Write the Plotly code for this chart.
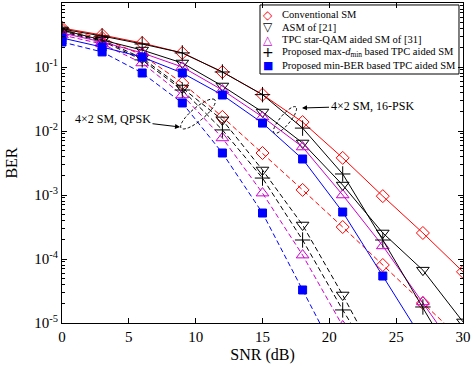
import numpy as np
import plotly.graph_objects as go

# ---------------- data ----------------
snr = [0, 3, 6, 9, 12, 15, 18, 21, 24, 27, 30]

# 4x2 SM, 16-PSK (solid)
conv_16 = [0.407, 0.316, 0.237, 0.166, 0.0836, 0.037, 0.0138, 0.0038, 9.6e-4, 2.55e-4, 6.3e-5]
asm_16 = [0.379, 0.264, 0.184, 0.1155, 0.0505, 0.0198, 0.0065, 0.00143, 2.55e-4, 6.7e-5, 1.04e-5]
tpc_16 = [0.34, 0.246, 0.166, 0.1, 0.0437, 0.0166, 0.00562, 0.001, 1.6e-4, 2.13e-5, 2.64e-6]
maxd_16 = [0.392, 0.305, 0.229, 0.166, 0.0836, 0.037, 0.0111, 0.00213, 1.98e-4, 1.78e-5, 1.5e-6]
minber_16 = [0.284, 0.205, 0.143, 0.0806, 0.0365, 0.0133, 0.00365, 5.42e-4, 5.42e-5, 5.42e-6, None]

# 4x2 SM, QPSK (dashed)
conv_q = [0.379, 0.284, 0.154, 0.0562, 0.0166, 0.00453, 0.0012, 3.16e-4, 8.06e-5, 2.05e-5, 5.25e-6]
asm_q = [0.365, 0.264, 0.138, 0.047, 0.0149, 0.00246, 3.4e-4, 2.74e-5, 1.85e-6, None, None]
tpc_q = [0.316, 0.229, 0.1155, 0.0365, 0.00778, 0.00107, 1.15e-4, 8.97e-6, None, None, None]
maxd_q = [0.352, 0.255, 0.129, 0.0437, 0.0104, 0.00184, 1.98e-4, 1.6e-5, 1.54e-6, None, None]
minber_q = [0.246, 0.172, 0.0806, 0.0274, 0.00453, 5.23e-4, 3.28e-5, 2.05e-6, None, None, None]

series_names = [
    "Conventional SM",
    "ASM of [21]",
    "TPC star-QAM aided SM of [31]",
    "Proposed max-<i>d</i><sub>min</sub> based TPC aided SM",
    "Proposed min-BER based TPC aided SM",
]
legend_glyphs = ["◇", "▽", "△", "+", "■"]

ytick_vals = [1e-5, 1e-4, 1e-3, 1e-2, 1e-1, 1]
ytick_text = ["10<sup>-5</sup>", "10<sup>-4</sup>", "10<sup>-3</sup>",
              "10<sup>-2</sup>", "10<sup>-1</sup>", "10<sup>0</sup>"]
xtick_vals = [0, 5, 10, 15, 20, 25, 30]

# ---------------- styles ----------------
FONT = "Liberation Serif, Times New Roman, serif"
RED, BLACK, MAG, BLUE = "#ff0000", "#000000", "#cc00cc", "#0000ff"
styles = [
    dict(color=RED, symbol="diamond-open", size=10),
    dict(color=BLACK, symbol="triangle-down-open", size=11),
    dict(color=MAG, symbol="triangle-up-open", size=11),
    dict(color=BLACK, symbol="cross-thin-open", size=11),
    dict(color=BLUE, symbol="square", size=8),
]
glyph_sizes = [12, 12, 12, 14, 11]

fig = go.Figure()

solid = [conv_16, asm_16, tpc_16, maxd_16, minber_16]
dashed = [conv_q, asm_q, tpc_q, maxd_q, minber_q]

for ys, st, name in zip(dashed, styles, series_names):
    fig.add_trace(go.Scatter(
        x=snr, y=ys, mode="lines+markers", name=name + " (QPSK)",
        line=dict(color=st["color"], width=1, dash="5px,3px"),
        marker=dict(symbol=st["symbol"], size=st["size"], color=st["color"],
                    line=dict(color=st["color"], width=1)),
    ))
for ys, st, name in zip(solid, styles, series_names):
    fig.add_trace(go.Scatter(
        x=snr, y=ys, mode="lines+markers", name=name + " (16-PSK)",
        line=dict(color=st["color"], width=1),
        marker=dict(symbol=st["symbol"], size=st["size"], color=st["color"],
                    line=dict(color=st["color"], width=1)),
    ))

# ---------------- layout geometry ----------------
L, R, T, B = 62, 463, 3, 323
W, H = 474, 366


def to_paper(px, py):
    return (px - L) / (R - L), (B - py) / (B - T)


def poly_path(points, close=True):
    pts = [to_paper(x, y) for x, y in points]
    s = "M " + " L ".join(f"{x:.4f},{y:.4f}" for x, y in pts)
    return s + (" Z" if close else "")


def ellipse_path(cx, cy, a, b, ang_deg, n=48):
    t = np.linspace(0, 2 * np.pi, n)
    ang = np.deg2rad(ang_deg)
    xs = cx + a * np.cos(t) * np.cos(ang) - b * np.sin(t) * np.sin(ang)
    ys = cy - (a * np.cos(t) * np.sin(ang) + b * np.sin(t) * np.cos(ang))
    return poly_path(list(zip(xs, ys)))


# legend frame (unfilled outline, markers only like the reference)
frame = [(260, 5), (459, 5), (459, 74), (260, 74)]
shapes = [
    dict(type="path", xref="paper", yref="paper", path=poly_path(frame),
         line=dict(color="black", width=1)),
    dict(type="path", xref="paper", yref="paper",
         path=ellipse_path(198, 114, 22, 6.5, 40),
         line=dict(color="black", width=1, dash="3px,2px")),
    dict(type="path", xref="paper", yref="paper",
         path=ellipse_path(285, 120, 17, 5, 50),
         line=dict(color="black", width=1, dash="3px,2px")),
]

qx, qy = to_paper(180, 127)
px16, py16 = to_paper(302, 108)
annotations = [
    dict(xref="paper", yref="paper", x=qx, y=qy, ax=-67, ay=-8,
         text="4×2 SM, QPSK", showarrow=True, arrowhead=2, arrowsize=1,
         arrowwidth=1, arrowcolor="black",
         font=dict(family=FONT, size=12, color="black")),
    dict(xref="paper", yref="paper", x=px16, y=py16, ax=70, ay=-2,
         text="4×2 SM, 16-PSK", showarrow=True, arrowhead=2, arrowsize=1,
         arrowwidth=1, arrowcolor="black",
         font=dict(family=FONT, size=12, color="black")),
]
row_y = [15, 27.5, 40, 52.5, 65]
for name, glyph, gs, st, ry in zip(series_names, legend_glyphs, glyph_sizes, styles, row_y):
    gx, gy = to_paper(268, ry)
    tx, _ = to_paper(281, ry)
    annotations.append(dict(xref="paper", yref="paper", x=gx, y=gy, text=glyph,
                            showarrow=False, xanchor="center", yanchor="middle",
                            borderpad=0,
                            font=dict(family="DejaVu Sans", size=gs, color=st["color"])))
    annotations.append(dict(xref="paper", yref="paper", x=tx, y=gy, text=name,
                            showarrow=False, xanchor="left", yanchor="middle",
                            borderpad=0,
                            font=dict(family=FONT, size=10.5, color="black")))

axis_common = dict(
    showline=True, linecolor="black", linewidth=1, mirror="ticks",
    ticks="inside", ticklen=5, tickcolor="black", showgrid=False, zeroline=False,
    tickfont=dict(family=FONT, size=15, color="black"),
)

fig.update_layout(
    width=W, height=H,
    margin=dict(l=L, r=W - R, t=T, b=H - B),
    paper_bgcolor="white", plot_bgcolor="white",
    font=dict(family=FONT, color="black"),
    showlegend=False,
    xaxis=dict(range=[0, 30], tickmode="array", tickvals=xtick_vals,
               title=dict(text="SNR (dB)", font=dict(family=FONT, size=16), standoff=4),
               **axis_common),
    yaxis=dict(type="log", range=[-5, 0], tickmode="array", tickvals=ytick_vals,
               ticktext=ytick_text,
               minor=dict(ticks="inside", ticklen=3, dtick="D1", tickcolor="black", showgrid=False),
               title=dict(text="BER", font=dict(family=FONT, size=16), standoff=12),
               **axis_common),
    shapes=shapes,
    annotations=annotations,
)

fig.write_html("out.html", config={"displayModeBar": False},
               post_script="document.body.style.margin='0px';")
